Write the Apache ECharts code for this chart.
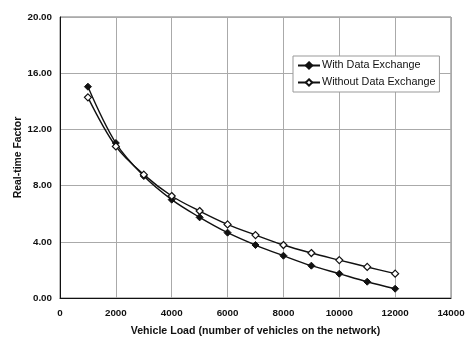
<!DOCTYPE html>
<html><head><meta charset="utf-8">
<script src="https://cdn.jsdelivr.net/npm/echarts@6/dist/echarts.min.js"></script>
<style>html,body{margin:0;padding:0;background:#fff}#c{width:474px;height:342px}</style>
</head><body><div id="c"></div>
<script>
const xValues = [1000,2000,3000,4000,5000,6000,7000,8000,9000,10000,11000,12000];
const withExchange = [15.04,11.03,8.68,7.00,5.74,4.65,3.77,3.01,2.30,1.73,1.16,0.66];
const withoutExchange = [14.28,10.79,8.78,7.26,6.19,5.24,4.48,3.77,3.20,2.70,2.21,1.73];
const seriesNames = ['With Data Exchange','Without Data Exchange'];
const pair = (xs, ys) => xs.map((x,i)=>[x, ys[i]]);
const font = 'Liberation Sans, Arial, sans-serif';
const chart = echarts.init(document.getElementById('c'), null, {renderer:'canvas'});
chart.setOption({
  animation:false,
  backgroundColor:'#fff',
  grid:{left:60, right:23, top:17, bottom:44, show:true, borderColor:'#777', borderWidth:1,
        containLabel:false, outerBoundsMode:'none'},
  legend:{
    orient:'vertical', left:293, top:56,
    backgroundColor:'#fff', borderColor:'#999', borderWidth:1,
    padding:[4,4,4,4], itemGap:6, itemWidth:22, itemHeight:8,
    textStyle:{fontFamily:font, fontSize:10.8, color:'#111', padding:[0,0,0,-3]},
    data: seriesNames
  },
  xAxis:{
    type:'value', min:0, max:14000, interval:2000,
    name:'Vehicle Load (number of vehicles on the network)',
    nameLocation:'middle', nameGap:28, nameMoveOverlap:false,
    nameTextStyle:{fontFamily:font, fontSize:10.6, fontWeight:'bold', color:'#111'},
    axisLine:{show:true, lineStyle:{color:'#111', width:1}},
    axisTick:{show:false},
    axisLabel:{fontFamily:font, fontSize:9.8, fontWeight:'bold', color:'#111', margin:10,
      formatter:v=>String(v)},
    splitLine:{show:true, lineStyle:{color:'#aaa', width:1}}
  },
  yAxis:{
    type:'value', min:0, max:20, interval:4,
    name:'Real-time Factor', nameLocation:'middle', nameGap:37, nameMoveOverlap:false,
    nameTextStyle:{fontFamily:font, fontSize:10.4, fontWeight:'bold', color:'#111'},
    axisLine:{show:true, lineStyle:{color:'#111', width:1}},
    axisTick:{show:false},
    axisLabel:{fontFamily:font, fontSize:9.8, fontWeight:'bold', color:'#111', margin:8,
      formatter:v=>v.toFixed(2)},
    splitLine:{show:true, lineStyle:{color:'#aaa', width:1}}
  },
  series:[
    {name:seriesNames[0], type:'line', smooth:0.35, data:pair(xValues, withExchange),
     symbol:'diamond', symbolSize:7,
     lineStyle:{color:'#111', width:1.4},
     itemStyle:{color:'#111', borderColor:'#111', borderWidth:1}},
    {name:seriesNames[1], type:'line', smooth:0.35, data:pair(xValues, withoutExchange),
     symbol:'diamond', symbolSize:7,
     lineStyle:{color:'#111', width:1.4},
     itemStyle:{color:'#fff', borderColor:'#111', borderWidth:1.2}}
  ]
});
</script></body></html>
